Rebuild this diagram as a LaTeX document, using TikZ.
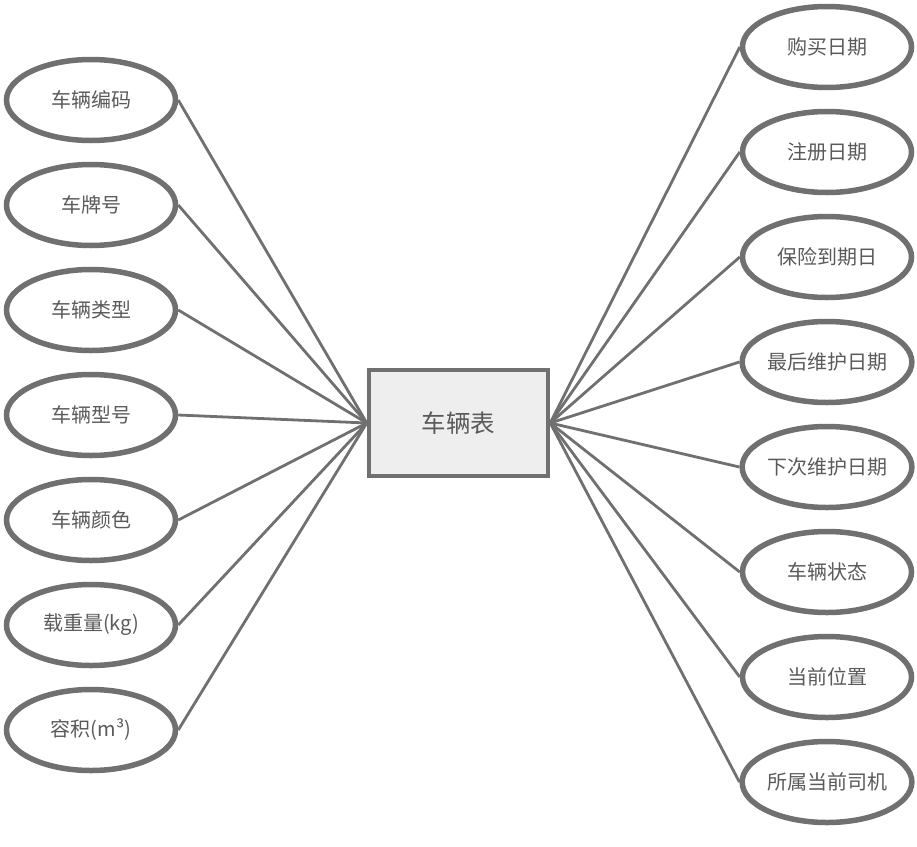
\documentclass[tikz,border=0pt]{standalone}
\usepackage{fontspec}
\setmainfont{Noto Sans CJK SC}
\usetikzlibrary{shapes.geometric}
\definecolor{edgegray}{HTML}{707070}
\definecolor{txtgray}{HTML}{5A5A5A}
\definecolor{boxfill}{HTML}{EEEEEE}
\begin{document}
\begin{tikzpicture}[x=1pt,y=-1pt,
  attr/.style={ellipse,draw=edgegray,line width=5.5pt,fill=white,minimum width=169pt,minimum height=81pt,inner sep=0pt,text=txtgray,font=\fontsize{20}{23}\selectfont},
  entity/.style={rectangle,draw=edgegray,line width=4.5pt,fill=boxfill,minimum width=179pt,minimum height=106pt,inner sep=0pt,text=txtgray,font=\fontsize{24.5}{27}\selectfont},
  link/.style={draw=edgegray,line width=2.8pt}]
\useasboundingbox (0,0) rectangle (917,846);
\node[entity] (t) at (458.5,423) {车辆表};
\node[attr] (l1) at (91,100) {车辆编码};
\node[attr] (l2) at (91,205) {车牌号};
\node[attr] (l3) at (91,310) {车辆类型};
\node[attr] (l4) at (91,415) {车辆型号};
\node[attr] (l5) at (91,520) {车辆颜色};
\node[attr] (l6) at (91,625) {载重量(kg)};
\node[attr] (l7) at (91,730) {容积(m³)};
\node[attr] (r1) at (827,47) {购买日期};
\node[attr] (r2) at (827,152) {注册日期};
\node[attr] (r3) at (827,257) {保险到期日};
\node[attr] (r4) at (827,362) {最后维护日期};
\node[attr] (r5) at (827,467) {下次维护日期};
\node[attr] (r6) at (827,572) {车辆状态};
\node[attr] (r7) at (827,677) {当前位置};
\node[attr] (r8) at (827,782) {所属当前司机};
\foreach \i in {1,...,7} \draw[link] (l\i.east) -- (t.west);
\foreach \i in {1,...,8} \draw[link] (r\i.west) -- (t.east);
\end{tikzpicture}
\end{document}
